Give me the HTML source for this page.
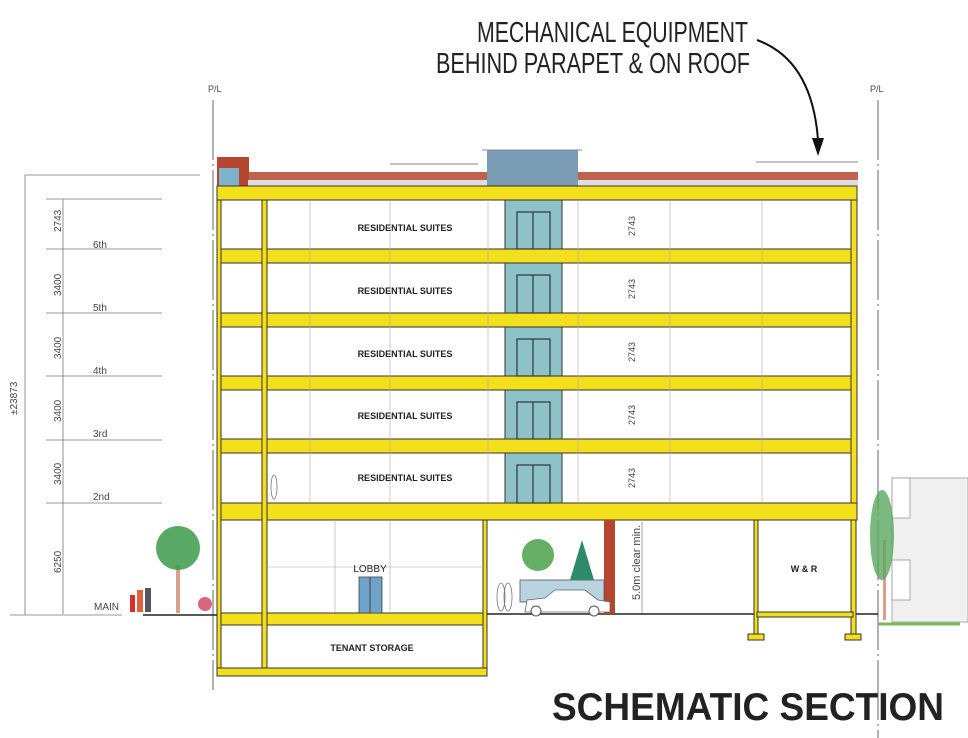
<!DOCTYPE html>
<html><head><meta charset="utf-8"><style>
html,body{margin:0;padding:0;background:#fff;}
svg{display:block;font-family:"Liberation Sans",sans-serif;}
</style></head><body>
<svg width="968" height="738" viewBox="0 0 968 738" xmlns="http://www.w3.org/2000/svg">
<rect width="968" height="738" fill="#fff"/>
<!-- title texts -->
<text x="477" y="42" font-size="29" fill="#222" textLength="271" lengthAdjust="spacingAndGlyphs">MECHANICAL EQUIPMENT</text>
<text x="436" y="73" font-size="29" fill="#222" textLength="314" lengthAdjust="spacingAndGlyphs">BEHIND PARAPET &amp; ON ROOF</text>
<path d="M757 40 Q812 60 818 140" fill="none" stroke="#111" stroke-width="2"/>
<polygon points="812,138 824,138 818,156" fill="#111"/>
<text x="552" y="720" font-size="39" font-weight="bold" fill="#222" textLength="392" lengthAdjust="spacingAndGlyphs">SCHEMATIC SECTION</text>

<!-- P/L lines -->
<text x="208" y="92" font-size="9" fill="#444">P/L</text>
<text x="870" y="92" font-size="9" fill="#444">P/L</text>
<line x1="213" y1="100" x2="213" y2="690" stroke="#666" stroke-width="1" stroke-dasharray="60 4 2 4"/>
<line x1="878" y1="100" x2="878" y2="738" stroke="#666" stroke-width="1" stroke-dasharray="60 4 2 4"/>

<!-- left dimension lines -->
<g stroke="#777" stroke-width="0.8">
<line x1="25" y1="175" x2="200" y2="175"/>
<line x1="25" y1="175" x2="25" y2="615"/>
<line x1="63" y1="199" x2="63" y2="614"/>
<line x1="46" y1="199" x2="162" y2="199"/>
<line x1="46" y1="249" x2="162" y2="249"/>
<line x1="46" y1="313" x2="162" y2="313"/>
<line x1="46" y1="376" x2="162" y2="376"/>
<line x1="46" y1="440" x2="162" y2="440"/>
<line x1="46" y1="503" x2="162" y2="503"/>
<line x1="10" y1="615" x2="122" y2="615"/>
</g>
<g font-size="10" fill="#444">
<text transform="translate(61,232) rotate(-90)">2743</text>
<text transform="translate(61,296) rotate(-90)">3400</text>
<text transform="translate(61,359) rotate(-90)">3400</text>
<text transform="translate(61,422) rotate(-90)">3400</text>
<text transform="translate(61,485) rotate(-90)">3400</text>
<text transform="translate(61,573) rotate(-90)">6250</text>
<text transform="translate(17,415) rotate(-90)">±23873</text>
<text x="93" y="248">6th</text>
<text x="93" y="311">5th</text>
<text x="93" y="374">4th</text>
<text x="93" y="437">3rd</text>
<text x="93" y="500">2nd</text>
<text x="94" y="610">MAIN</text>
</g>
<!-- ground lines -->
<line x1="143" y1="615" x2="217" y2="615" stroke="#222" stroke-width="1.5"/>
<line x1="483" y1="614" x2="878" y2="614" stroke="#222" stroke-width="1.5"/>
<line x1="878" y1="624" x2="960" y2="624" stroke="#7b5" stroke-width="3"/>

<!-- neighbor building -->
<rect x="892" y="478" width="76" height="144" fill="#f0f0f0" stroke="#999" stroke-width="0.8"/>
<rect x="892" y="478" width="18" height="40" fill="#fff" stroke="#999" stroke-width="0.8"/>
<rect x="892" y="560" width="18" height="40" fill="#fff" stroke="#999" stroke-width="0.8"/>

<!-- roof elements -->
<rect x="217" y="157" width="32" height="30" fill="#b5452e"/>
<rect x="219" y="168" width="20" height="19" fill="#7fb0cc"/>
<rect x="248" y="172" width="610" height="8" fill="#b5452e" opacity="0.85"/>
<rect x="248" y="180" width="610" height="6" fill="#ddd"/>
<rect x="487" y="150" width="91" height="37" fill="#7a9bb4"/>
<line x1="482" y1="150" x2="582" y2="150" stroke="#888"/>
<line x1="390" y1="164" x2="478" y2="164" stroke="#888"/>
<line x1="756" y1="162" x2="858" y2="162" stroke="#888"/>

<!-- yellow structure -->
<g fill="#f3df1c" stroke="#333" stroke-width="1">
<rect x="217" y="186" width="640" height="14"/>
<rect x="217" y="249" width="640" height="14"/>
<rect x="217" y="313" width="640" height="14"/>
<rect x="217" y="376" width="640" height="14"/>
<rect x="217" y="439" width="640" height="14"/>
<rect x="217" y="503" width="640" height="17"/>
<rect x="217" y="613" width="270" height="12"/>
<rect x="217" y="200" width="4" height="476"/>
<rect x="851" y="200" width="6" height="303"/>
<rect x="262" y="200" width="5" height="476"/>
<rect x="483" y="520" width="4" height="156"/>
<rect x="217" y="668" width="270" height="8"/>
<rect x="754" y="520" width="4" height="118"/>
<rect x="851" y="520" width="5" height="118"/>
<rect x="748" y="634" width="16" height="6"/>
<rect x="845" y="634" width="16" height="6"/>
<rect x="757" y="612" width="96" height="5"/>
</g>
<!-- grid lines -->
<g stroke="#aaa" stroke-width="0.6">
<line x1="310" y1="200" x2="310" y2="503"/>
<line x1="390" y1="200" x2="390" y2="503"/>
<line x1="488" y1="200" x2="488" y2="503"/>
<line x1="578" y1="200" x2="578" y2="503"/>
<line x1="670" y1="200" x2="670" y2="503"/>
<line x1="762" y1="200" x2="762" y2="503"/>
<line x1="335" y1="520" x2="335" y2="613"/>
<line x1="390" y1="520" x2="390" y2="613"/>
<line x1="267" y1="567" x2="483" y2="567"/>
</g>
<!-- windows -->
<g fill="#8cc2c8" stroke="#333" stroke-width="1">
<rect x="505" y="200" width="57" height="49"/>
<rect x="505" y="263" width="57" height="50"/>
<rect x="505" y="327" width="57" height="49"/>
<rect x="505" y="390" width="57" height="49"/>
<rect x="505" y="453" width="57" height="50"/>
</g>
<g stroke="#333" stroke-width="1.2" fill="none">
<rect x="517" y="212" width="33" height="37"/><line x1="533" y1="212" x2="533" y2="249"/>
<rect x="517" y="275" width="33" height="38"/><line x1="533" y1="275" x2="533" y2="313"/>
<rect x="517" y="339" width="33" height="37"/><line x1="533" y1="339" x2="533" y2="376"/>
<rect x="517" y="402" width="33" height="37"/><line x1="533" y1="402" x2="533" y2="439"/>
<rect x="517" y="465" width="33" height="38"/><line x1="533" y1="465" x2="533" y2="503"/>
</g>
<g font-size="9" font-weight="bold" fill="#222" text-anchor="middle">
<text x="405" y="231">RESIDENTIAL SUITES</text>
<text x="405" y="294">RESIDENTIAL SUITES</text>
<text x="405" y="357">RESIDENTIAL SUITES</text>
<text x="405" y="419">RESIDENTIAL SUITES</text>
<text x="405" y="481">RESIDENTIAL SUITES</text>
<text x="372" y="651">TENANT STORAGE</text>
<text x="804" y="572">W &amp; R</text>
</g>
<text x="370" y="572" font-size="10" fill="#222" text-anchor="middle">LOBBY</text>
<g font-size="9" fill="#444">
<text transform="translate(635,236) rotate(-90)">2743</text>
<text transform="translate(635,299) rotate(-90)">2743</text>
<text transform="translate(635,362) rotate(-90)">2743</text>
<text transform="translate(635,425) rotate(-90)">2743</text>
<text transform="translate(635,488) rotate(-90)">2743</text>
<text transform="translate(640,600) rotate(-90)" font-size="11">5.0m clear min.</text>
</g>
<line x1="642" y1="522" x2="642" y2="613" stroke="#666" stroke-width="0.6"/>
<!-- lobby door -->
<rect x="359" y="577" width="23" height="36" fill="#6fa3c9" stroke="#444" stroke-width="0.8"/>
<line x1="370" y1="577" x2="370" y2="613" stroke="#444"/>
<!-- red column -->
<rect x="604" y="520" width="11" height="94" fill="#b5452e"/>
<!-- car/planter -->
<rect x="520" y="580" width="84" height="22" fill="#b9d3e0" stroke="#555" stroke-width="0.8"/>
<path d="M525 612 L527 600 L545 598 L555 590 L585 590 L598 600 L610 602 L610 612 Z" fill="#fff" stroke="#666" stroke-width="0.8"/>
<circle cx="536" cy="611" r="5" fill="#fff" stroke="#555"/>
<circle cx="594" cy="611" r="5" fill="#fff" stroke="#555"/>
<circle cx="538" cy="555" r="16" fill="#4aa04a" opacity="0.85"/>
<polygon points="582,540 570,580 594,580" fill="#2f8a6a"/>
<!-- trees -->
<rect x="176" y="565" width="4" height="48" fill="#d9a08a"/>
<circle cx="178" cy="548" r="22" fill="#3b9a48" opacity="0.85"/>
<circle cx="205" cy="604" r="7" fill="#d04060" opacity="0.8"/>
<rect x="883" y="540" width="3" height="80" fill="#d9a08a"/>
<ellipse cx="882" cy="535" rx="12" ry="45" fill="#5aa860" opacity="0.8"/>
<!-- people -->
<g fill="#444">
<rect x="130" y="595" width="5" height="17" fill="#d03030"/>
<rect x="137" y="590" width="6" height="22" fill="#e06040"/>
<rect x="145" y="588" width="6" height="24" fill="#556"/>
</g>
<g fill="none" stroke="#777" stroke-width="0.8">
<ellipse cx="274" cy="487" rx="3" ry="12"/>
<ellipse cx="501" cy="597" rx="4" ry="14"/>
<ellipse cx="508" cy="597" rx="4" ry="14"/>
</g>
</svg>
</body></html>
